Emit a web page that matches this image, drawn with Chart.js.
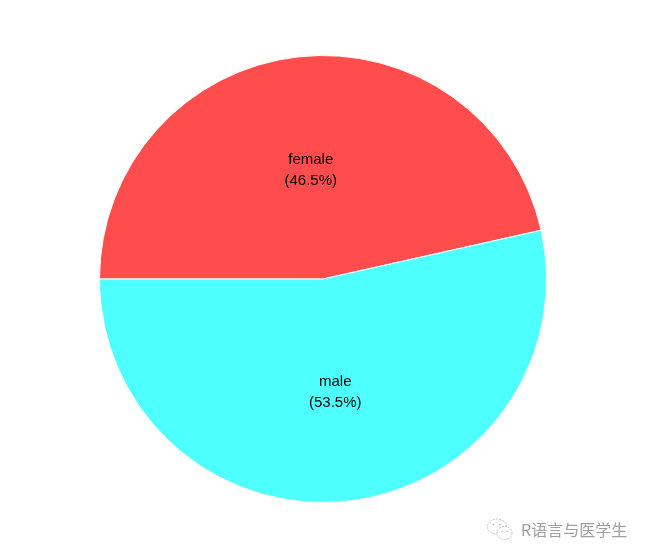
<!DOCTYPE html>
<html>
<head>
<meta charset="utf-8">
<style>
html,body{margin:0;padding:0;background:#fff;width:646px;height:558px;overflow:hidden}
#wrap{position:relative;width:646px;height:558px}
#mark{position:absolute;left:521px;top:519px;font:16px "Noto Sans CJK SC",sans-serif;line-height:20px;color:#a0a0a0;white-space:nowrap}
#icon{position:absolute;left:486px;top:518px}
</style>
<script src="https://cdn.jsdelivr.net/npm/chart.js@4"></script>
</head>
<body>
<div id="wrap">
<canvas id="c" width="646" height="558"></canvas>
<svg id="icon" width="28" height="24" viewBox="0 0 28 24" fill="#fff" stroke="#c4c4c4" stroke-width="1" stroke-dasharray="2 1">
<ellipse cx="11" cy="8.5" rx="9.5" ry="7.5"/>
<ellipse cx="18.5" cy="15" rx="7.5" ry="6.5"/>
<circle cx="7.5" cy="6.5" r="0.8" fill="#aaa" stroke="none"/>
<circle cx="14" cy="6.5" r="0.8" fill="#aaa" stroke="none"/>
<circle cx="16" cy="13.5" r="0.7" fill="#aaa" stroke="none"/>
<circle cx="21" cy="13.5" r="0.7" fill="#aaa" stroke="none"/>
</svg>
<div id="mark">R语言与医学生</div>
</div>
<script>
const categories = ["female", "male"];
const percentLabels = ["(46.5%)", "(53.5%)"];
const values = [46.5, 53.5];
const colors = ["#ff4d4d", "#4dffff"];

const sliceLabels = {
  id: "sliceLabels",
  afterDatasetsDraw(chart) {
    const ctx = chart.ctx;
    const arcs = chart.getDatasetMeta(0).data;
    ctx.save();
    ctx.font = '15px "Liberation Sans", Arial, sans-serif';
    ctx.fillStyle = "#000";
    ctx.textAlign = "center";
    ctx.textBaseline = "middle";
    arcs.forEach((arc, i) => {
      const p = arc.getCenterPoint();
      ctx.fillText(categories[i], p.x, p.y - 8);
      ctx.fillText(percentLabels[i], p.x, p.y + 13);
    });
    ctx.restore();
  }
};

new Chart(document.getElementById("c"), {
  type: "pie",
  data: {
    labels: categories,
    datasets: [{
      data: values,
      backgroundColor: colors,
      borderColor: "#ffffff",
      borderWidth: 1,
      borderAlign: "center"
    }]
  },
  options: {
    responsive: false,
    animation: false,
    rotation: -90,
    layout: { padding: { left: 99, right: 99, top: 55, bottom: 55 } },
    plugins: { legend: { display: false }, tooltip: { enabled: false } }
  },
  plugins: [sliceLabels]
});
</script>
</body>
</html>
